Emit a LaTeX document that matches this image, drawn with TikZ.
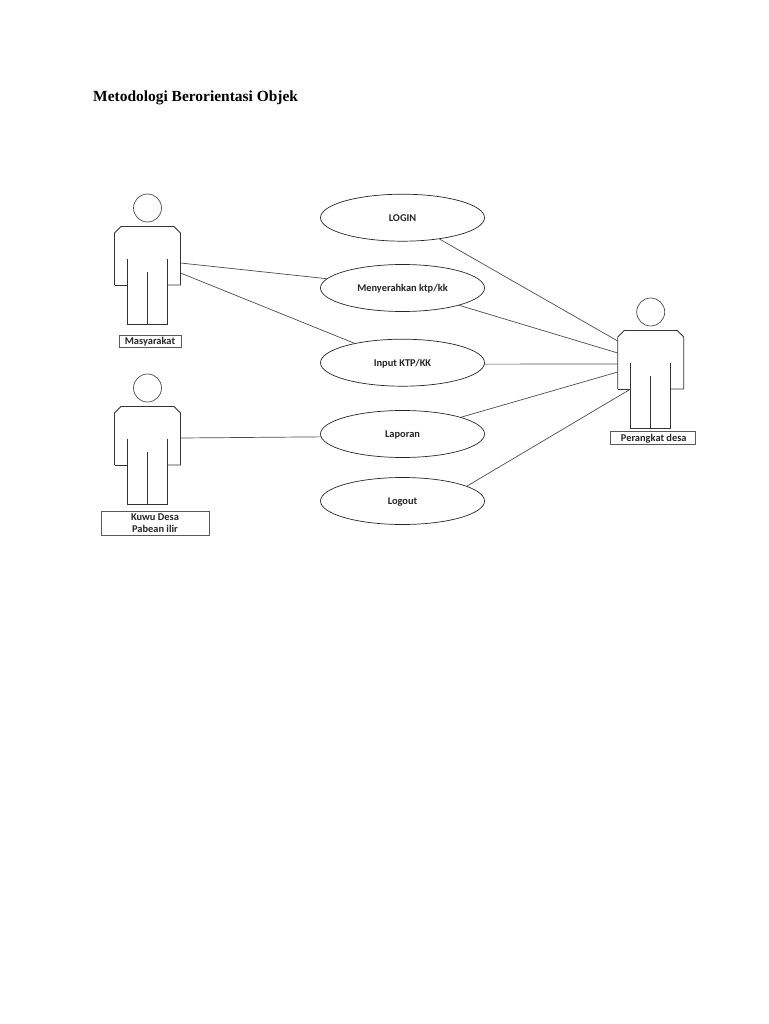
\documentclass[tikz,border=0pt]{standalone}
\usepackage{fontspec}
\setmainfont{Liberation Serif}
\newfontfamily\diagfont{Carlito}
\usetikzlibrary{shapes.geometric}
\tikzset{
  usecase/.style={draw=black!85,line width=0.7pt,ellipse,inner sep=0pt,minimum width=164pt,minimum height=47pt,text height=7pt,text depth=0pt,font=\diagfont\bfseries\fontsize{10.4}{12}\selectfont,text=black!85},
  actorline/.style={draw=black!80,line width=0.9pt,line join=miter},
  actorhead/.style={draw=black!70,line width=0.7pt,circle,inner sep=0pt,minimum size=28pt},
  namebox/.style={draw=black!65,line width=0.7pt,inner sep=0pt,font=\diagfont\bfseries\fontsize{10.4}{12.5}\selectfont,text=black!85,align=center},
  oneline/.style={text height=7pt,text depth=0pt},
  link/.style={draw=black!70,line width=0.7pt},
  titletext/.style={font=\bfseries\fontsize{15.45}{18}\selectfont,anchor=base west,inner sep=0pt}
}
% #1 name, #2 x of left arm, #3 y of body top
\newcommand{\actorfig}[3]{%
  \begin{scope}[shift={(#2,#3)}]
    \node[actorhead] (#1head) at (33,-18.5) {};
    \draw[actorline] (0,58.5) -- (0,6.5) -- (6.5,0) -- (59.5,0) -- (66,6.5) -- (66,58.5) -- (53,58.5);
    \draw[actorline] (0,58.5) -- (13,58.5);
    \draw[actorline] (13,32.5) -- (13,97.5) -- (53,97.5) -- (53,32.5);
    \draw[actorline] (33,45.5) -- (33,97.5);
    \coordinate (#1p0) at (66,31.5);
    \coordinate (#1p1) at (66,36.5);
    \coordinate (#1p2) at (66,46.5);
    \coordinate (#1w1) at (0,10.5);
    \coordinate (#1w2) at (0,22.5);
    \coordinate (#1w3) at (0,33.5);
    \coordinate (#1w4) at (0,41.5);
    \coordinate (#1w5) at (13,58.5);
  \end{scope}}
\begin{document}
\begin{tikzpicture}[x=1pt,y=-1pt]
  \useasboundingbox[fill=white] (0,0) rectangle (768,1024);
  \node[titletext] (title) at (93,101.5) {Metodologi Berorientasi Objek};

  \actorfig{a}{114.5}{226.5}
  \actorfig{b}{114.5}{406.5}
  \actorfig{c}{617.7}{330.5}

  \node[namebox,oneline,minimum width=62pt,minimum height=12pt] (aname) at (150,341) {Masyarakat};
  \node[namebox,minimum width=108pt,minimum height=24pt] (bname) at (155,523) {Kuwu Desa\\Pabean ilir};
  \node[namebox,oneline,minimum width=85pt,minimum height=13pt] (cname) at (652.5,437.5) {\hspace{2.5pt}Perangkat desa};

  \node[usecase] (login) at (402.5,217.7) {LOGIN};
  \node[usecase] (serah) at (402.5,288) {Menyerahkan ktp/kk};
  \node[usecase] (input) at (402.5,362.7) {Input KTP/KK};
  \node[usecase] (lapor) at (402.5,434) {Laporan};
  \node[usecase] (logout) at (402.5,501) {Logout};

  \draw[link] (ap1) -- (serah.173);
  \draw[link] (ap2) -- (input.158);
  \draw[link] (bp0) -- (lapor.182);
  \draw[link] (login.-30) -- (cw1);
  \draw[link] (serah.-17) -- (cw2);
  \draw[link] (input.-1) -- (cw3);
  \draw[link] (lapor.16) -- (cw4);
  \draw[link] (logout.13) -- (cw5);
\end{tikzpicture}
\end{document}
